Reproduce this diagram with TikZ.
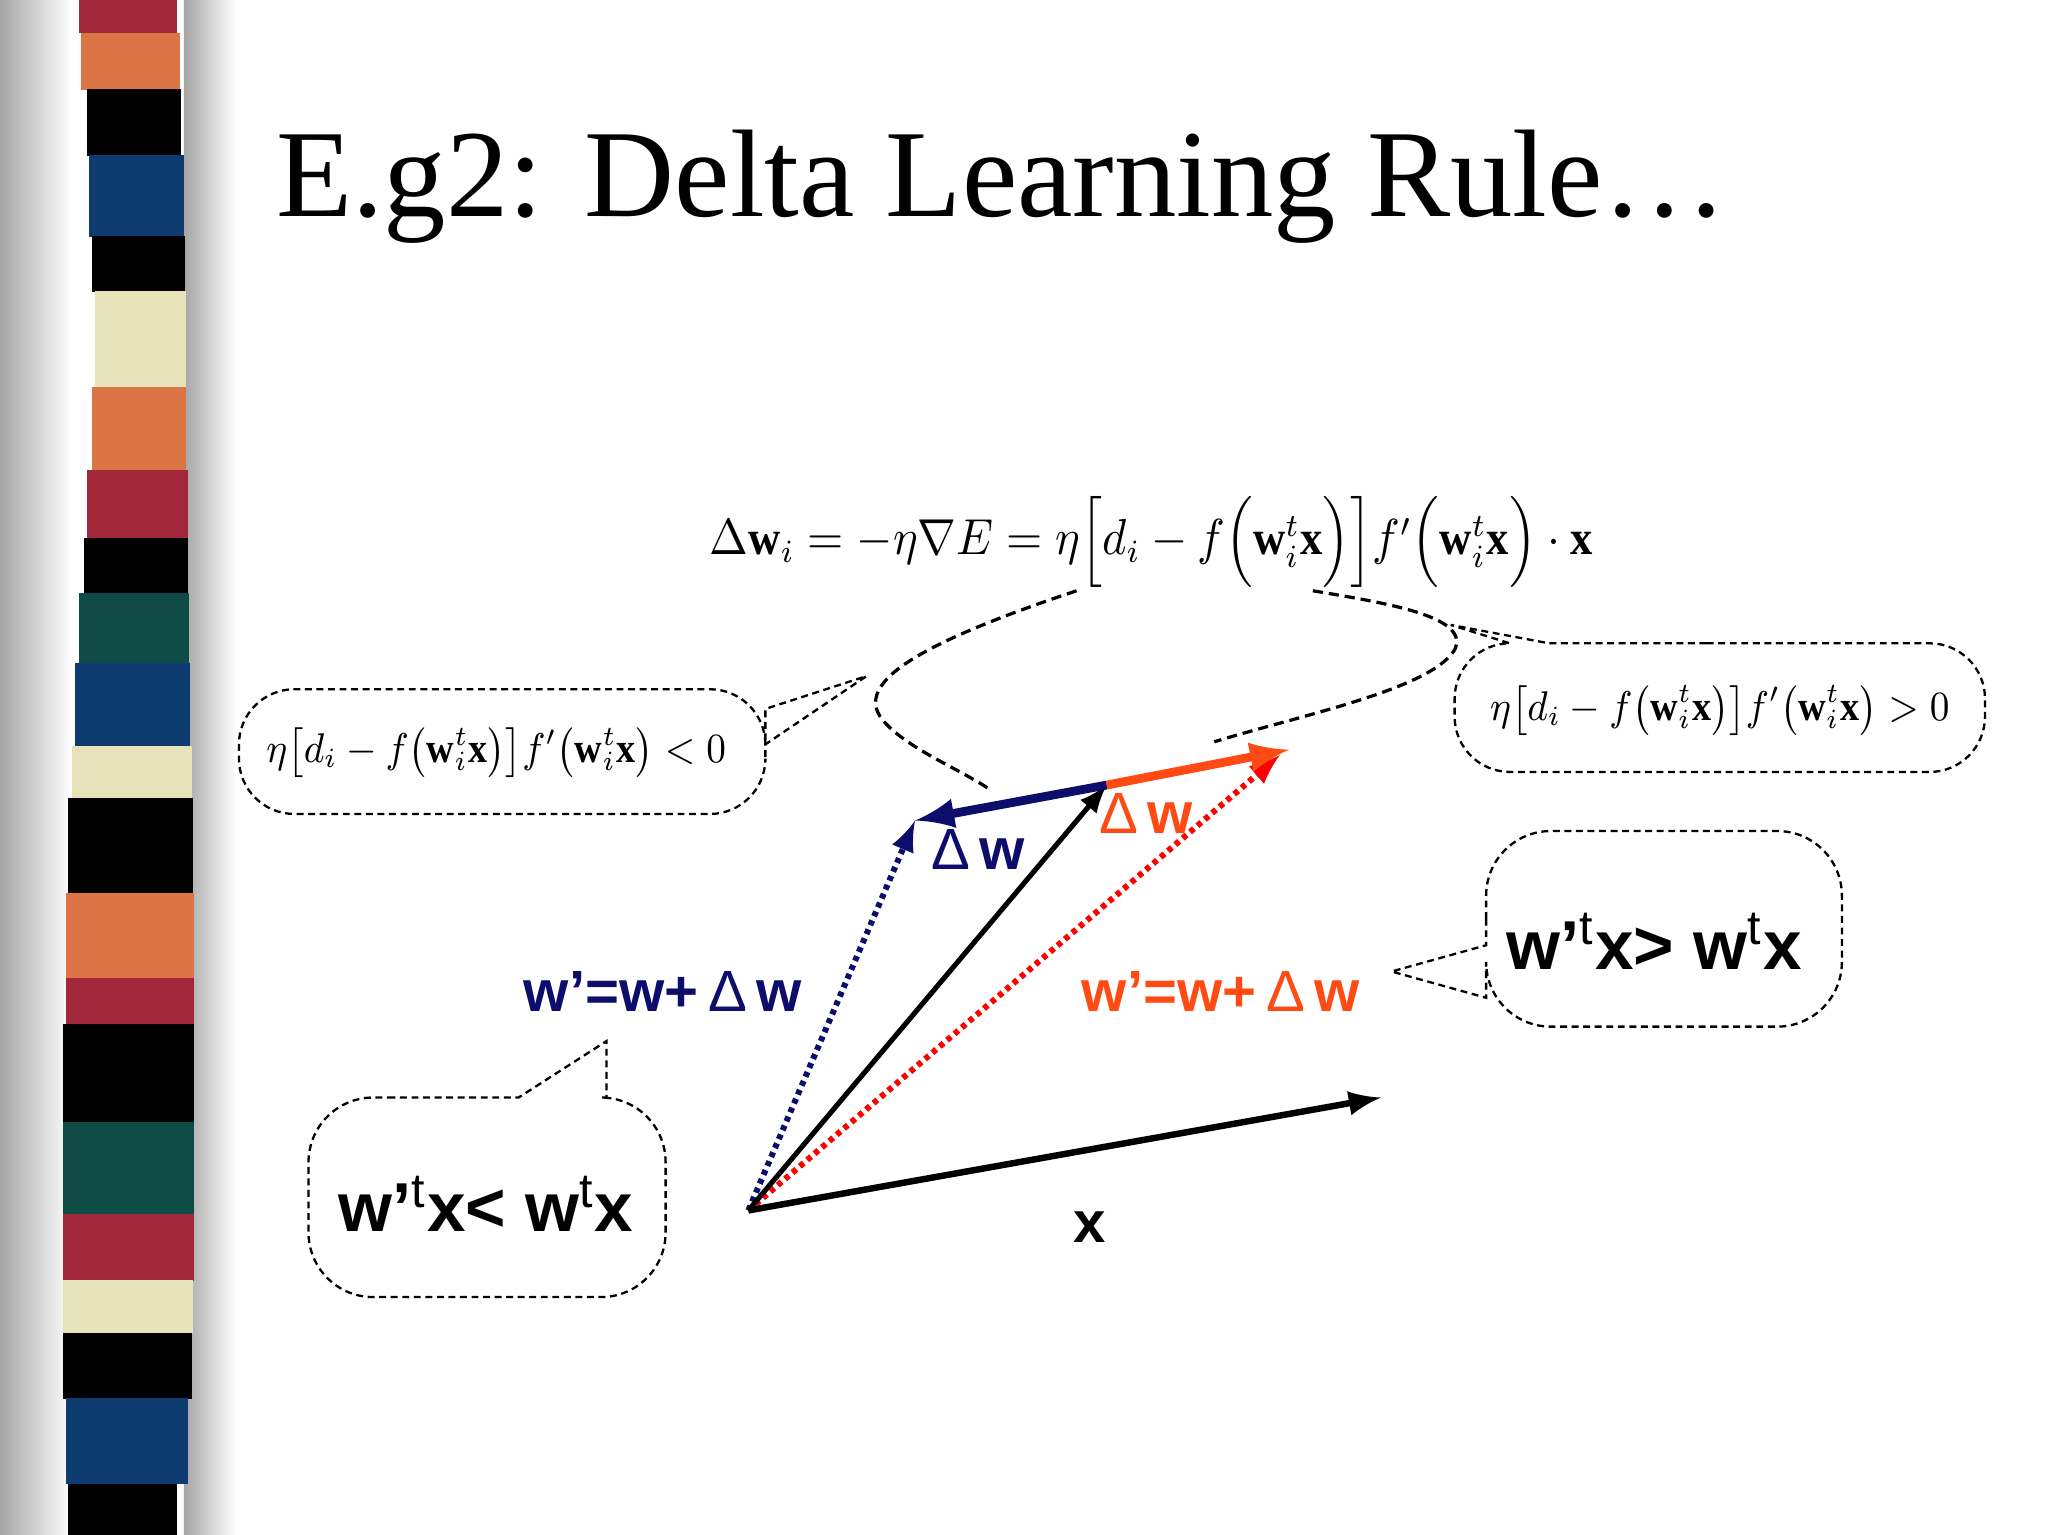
\documentclass[tikz,border=0pt]{standalone}
\usepackage{fontspec}
\setmainfont{Liberation Serif}
\setsansfont{Liberation Sans}
\usepackage{amsmath}
\begin{document}
\begin{tikzpicture}[x=0.01cm,y=-0.01cm,
  callout/.style={draw=black,line width=0.5pt,dash pattern=on 1.5pt off 1pt},
  brace/.style={draw=black,line width=0.7pt,dash pattern=on 2.2pt off 1.3pt},
  lbl/.style={font=\sffamily\bfseries\fontsize{12.6}{12.6}\selectfont,inner sep=0pt},
  big/.style={font=\sffamily\bfseries\fontsize{15}{15}\selectfont,inner sep=0pt},
  vec/.style={-latex,line width=1.1pt}]
\definecolor{navy}{HTML}{0D0D6B}
\definecolor{ored}{HTML}{FF4A14}
\definecolor{sCr}{HTML}{A3273A}\definecolor{sOr}{HTML}{DC7545}\definecolor{sNv}{HTML}{0F3C70}
\definecolor{sCm}{HTML}{E6E3BB}\definecolor{sTl}{HTML}{0E4A46}
\useasboundingbox (0,0) rectangle (1560,1169);
\fill[white] (0,0) rectangle (1560,1169);
% shadows
\shade[left color=gray!70,right color=white] (0,0) rectangle (55,1169);
\shade[left color=gray!70,right color=white] (140,0) rectangle (180,1169);
% stripe bands
\foreach \a/\b/\c/\l/\r in {0/25/sCr/60/135,25/68/sOr/62/137,68/118/black/66/138,118/180/sNv/68/140,180/222/black/70/141,222/295/sCm/72/142,295/358/sOr/70/142,358/410/sCr/66/143,410/452/black/64/143,452/505/sTl/60/144,505/568/sNv/57/145,568/608/sCm/55/146,608/680/black/52/147,680/745/sOr/50/148,745/780/sCr/50/148,780/855/black/48/148,855/925/sTl/48/148,925/975/sCr/48/148,975/1015/sCm/48/147,1015/1065/black/48/146,1065/1130/sNv/50/143,1130/1169/black/52/135}
  \fill[\c] (\l,\a) rectangle (\r,\b+0.5);
% title
\node[anchor=base west,inner sep=0pt,font=\fontsize{27}{27}\selectfont] (title) at (210,165) {E.g2: Delta Learning Rule…};
% formula
\node[inner sep=0pt,font=\fontsize{10.5}{11}\selectfont,xscale=0.92] (formula) at (877,413)
 {$\Delta\mathbf{w}_i=-\eta\nabla E=\eta\Bigl[d_i-f\Bigl(\mathbf{w}_i^t\mathbf{x}\Bigr)\Bigr]f'\Bigl(\mathbf{w}_i^t\mathbf{x}\Bigr)\cdot\mathbf{x}$};
% left condition callout
\draw[callout,rounded corners=12pt] (583,580) -- (583,620) -- (182,620) -- (182,525) -- (583,525) [sharp corners] -- (583,540) -- (660,515) -- (583,567) -- cycle;
\node[inner sep=0pt,font=\fontsize{9}{9}\selectfont,xscale=0.92] (cl) at (378,573)
 {$\eta\bigl[d_i-f\bigl(\mathbf{w}_i^t\mathbf{x}\bigr)\bigr]f'\bigl(\mathbf{w}_i^t\mathbf{x}\bigr)<0$};
% right condition callout
\draw[callout,rounded corners=12pt] (1300,490) -- (1512,490) -- (1512,588) -- (1108,588) -- (1108,490) [sharp corners] -- (1150,490) -- (1105,476) -- (1180,490) -- cycle;
\node[inner sep=0pt,font=\fontsize{9}{9}\selectfont,xscale=0.92] (cr) at (1310,541)
 {$\eta\bigl[d_i-f\bigl(\mathbf{w}_i^t\mathbf{x}\bigr)\bigr]f'\bigl(\mathbf{w}_i^t\mathbf{x}\bigr)>0$};
% brace-like curves
\draw[brace] (820,450) .. controls (700,490) and (650,520) .. (672,548) .. controls (690,570) and (730,585) .. (755,602);
\draw[brace] (1000,450) .. controls (1060,460) and (1120,470) .. (1108,495) .. controls (1090,525) and (990,545) .. (925,565);
% vectors
\coordinate (O) at (570,922);
\coordinate (P) at (843,598);
\coordinate (B) at (697,625);
\coordinate (R) at (982,571);
\coordinate (X) at (1052,836);
\draw[vec,navy,densely dotted,line width=1.3pt] (O) -- (B);
\draw[vec,red,densely dotted,line width=1.3pt] (O) -- (975,575);
\draw[vec,black] (O) -- (P);
\draw[vec,navy,line width=1.9pt] (P) -- (B);
\draw[vec,ored,line width=1.9pt] (P) -- (R);
\draw[vec,black,line width=1.4pt] (O) -- (X);
% labels
\node[lbl,navy] (dwb) at (745,647) {{\mdseries Δ}\,w};
\node[lbl,ored] (dwr) at (873,620) {{\mdseries Δ}\,w};
\node[lbl,navy] (eqb) at (505,755) {w’=w+\,{\mdseries Δ}\,w};
\node[lbl,ored] (eqr) at (930,755) {w’=w+\,{\mdseries Δ}\,w};
\node[lbl,black] (xl) at (830,935) {x};
% right callout
\draw[callout,rounded corners=14pt] (1132,700) -- (1132,633) -- (1403,633) -- (1403,782) -- (1132,782) [sharp corners] -- (1132,760) -- (1060,740) -- (1132,720) -- cycle;
\node[big] (gt) at (1260,717) {w’\textsuperscript{\mdseries t}x> w\textsuperscript{\mdseries t}x};
% left callout
\draw[callout,rounded corners=14pt] (300,836) -- (235,836) -- (235,988) -- (507,988) -- (507,836) [sharp corners] -- (462,836) -- (462,793) -- (395,836) -- cycle;
\node[big] (lt) at (370,917) {w’\textsuperscript{\mdseries t}x< w\textsuperscript{\mdseries t}x};
\end{tikzpicture}
\end{document}
